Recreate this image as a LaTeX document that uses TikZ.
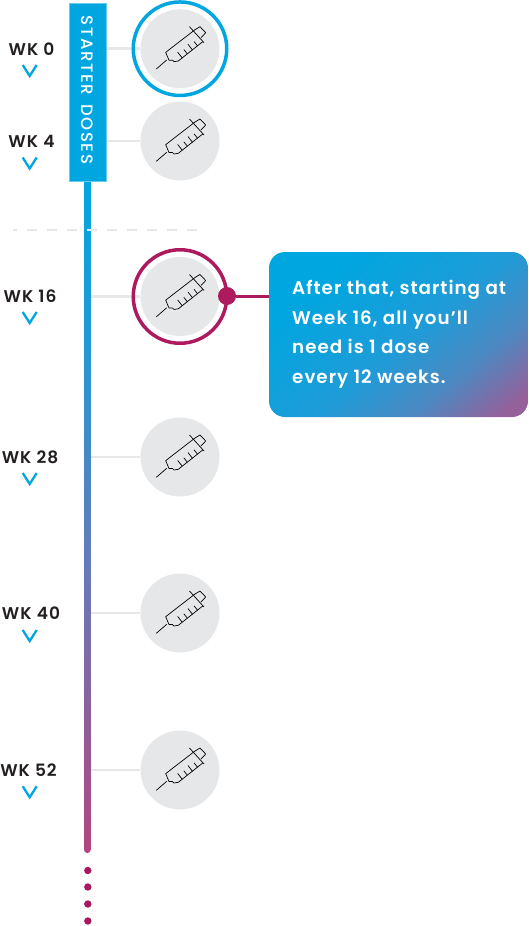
\documentclass[tikz,border=0pt]{standalone}
\usepackage{fontspec}
\setmainfont{Poppins}
\newfontfamily\wkfont[LetterSpace=6]{Poppins SemiBold}
\newfontfamily\boxfont[LetterSpace=5.5]{Poppins SemiBold}
\newfontfamily\banfont[LetterSpace=9.5]{Poppins Medium}
\usetikzlibrary{calc}
\definecolor{blu}{HTML}{00A6E0}
\definecolor{gry}{HTML}{E6E7E8}
\definecolor{mag}{HTML}{AE1A5E}
\definecolor{ink}{HTML}{231F20}
\definecolor{la}{HTML}{B2467F}
\definecolor{lb}{HTML}{6A78B6}
\definecolor{lc}{HTML}{2398D4}
\definecolor{ba}{HTML}{1E9CD8}
\definecolor{bb}{HTML}{4C88C1}
\definecolor{bc}{HTML}{96609A}
\pgfdeclareverticalshading{tline}{100bp}{color(0bp)=(la); color(25bp)=(la); color(45bp)=(lb); color(62.5bp)=(lc); color(75bp)=(blu); color(100bp)=(blu)}
\pgfdeclareverticalshading{tbox}{100bp}{color(0bp)=(bc); color(19bp)=(bc); color(33bp)=(bb); color(48bp)=(ba); color(72bp)=(blu); color(100bp)=(blu)}
\tikzset{x=1pt,y=-1pt,
 dosecircle/.style={circle,fill=gry,minimum size=79pt,inner sep=0pt},
 ringmark/.style={circle,draw=#1,line width=3.5pt,minimum size=93.5pt,inner sep=0pt},
 linkline/.style={draw=gry,line width=2.5pt},
 chev/.style={draw=blu,line width=2.3pt,miter limit=10},
 wklabel/.style={text=ink,font=\wkfont\fontsize{17}{17}\selectfont,anchor=base,inner sep=0pt},
 syr/.style={draw=black,line width=0.7pt,line join=round},
 enddot/.style={circle,fill=mag!90!violet,minimum size=7.4pt,inner sep=0pt}
}
\newcommand{\syringe}[1]{%
 \begin{scope}[shift={(#1)}]
  \draw[syr] (-23.7,20.3) -- (-13.3,11.3);
  \draw[syr] (15,-19) -- (-10,0.3) -- (-14.3,3.7) -- (-11,11.5) -- (-7.5,11.5) -- (-6,13) -- (-1.7,12.3) -- (22.7,-7);
  \draw[syr] (9.5,-22) -- (24,-6);
  \draw[syr] (15,-19) -- (20,-22) -- (25.7,-16) -- (21,-11);
  \draw[syr] (2.3,9.3) -- (-2.3,3.5);
  \draw[syr] (7.4,5.3) -- (3.8,0.8);
  \draw[syr] (12.5,1.3) -- (8,-4.4);
  \draw[syr] (17.6,-2.7) -- (14,-7.2);
 \end{scope}}
\begin{document}
\begin{tikzpicture}
\useasboundingbox (0,0) rectangle (528,926);
% circles and links, under the timeline
\foreach \n/\y/\lab/\lx/\ch in {0/48.7/WK 0/31.5/65,1/141/WK 4/31.5/157.5,2/296.5/WK 16/30/312,3/457/WK 28/30/473,4/613/WK 40/31/630,5/770/WK 52/28.5/786.3}{
 \coordinate (b\n) at (87.4,\y);
 \node[dosecircle] (c\n) at (180,\y) {};
 \draw[linkline] (b\n) -- (c\n);
 \syringe{180,\y}
 \node[wklabel] (w\n) at (\lx,\y+6.3) {\lab};
 \coordinate (va\n) at (22.7,\ch);
 \coordinate (vb\n) at (29.7,\ch+11);
 \coordinate (vc\n) at (36.7,\ch);
 \draw[chev] (va\n) -- (vb\n) -- (vc\n);
}
% timeline
\shade[shading=tline,rounded corners=3.3pt] (84,175) rectangle (90.8,853);
% dashed
\coordinate (dashR) at (197,230);
\coordinate (dashL) at (13,230);
\draw[draw=gry,line width=2.5pt,dash pattern=on 10pt off 10pt] (dashR) -- (dashL);
% banner
\node[fill=blu,draw=blu!60!white,line width=0.5pt,minimum width=36.5pt,minimum height=178pt,inner sep=0pt] (banner) at (87.7,92) {};
\node[rotate=-90,text=white,font=\banfont\fontsize{16.5}{16.5}\selectfont] (bantext) at (87,90) {STARTER\hspace{4pt} DOSES};
\node[ringmark=blu] (r0) at (180,48.7) {};
\node[ringmark=mag] (r2) at (180,296.5) {};
% callout
\shade[shading=tbox,shading angle=40,rounded corners=16pt] (269,252) rectangle (528,417);
\coordinate (boxleft) at (269,296);
\node[circle,fill=mag,minimum size=18pt,inner sep=0pt] (pin) at (227,296) {};
\draw[draw=mag,line width=3pt] (pin) -- (boxleft);
\node[anchor=base west,text=white,inner sep=0pt,font=\boxfont\fontsize{18.3}{29.6}\selectfont,align=left] (msg) at (292,383.5) {After that, starting at\\Week 16, all you’ll\\need is 1 dose\\every 12 weeks.};
% dots
\node[enddot] (d1) at (87.8,870.5) {};
\node[enddot] (d2) at (87.8,887) {};
\node[enddot] (d3) at (87.8,904) {};
\node[enddot] (d4) at (87.8,921) {};
\end{tikzpicture}
\end{document}
